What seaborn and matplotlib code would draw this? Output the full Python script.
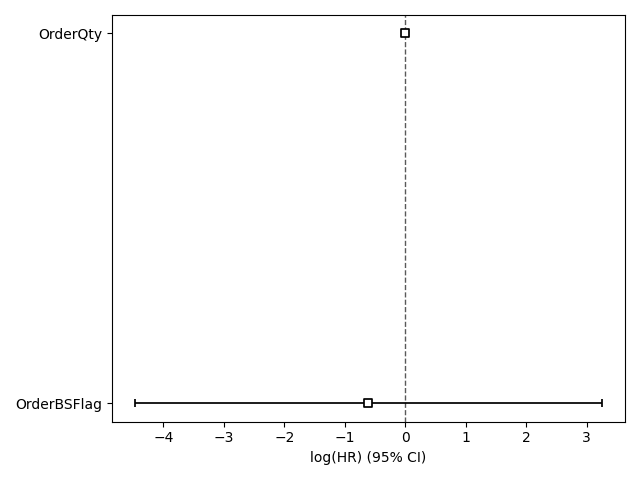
import numpy as np
import pandas as pd
import seaborn as sns
import matplotlib
matplotlib.use("Agg")
import matplotlib.pyplot as plt

# coefficients (log hazard ratios) and 95% CI half widths, sorted by coef
covariates = ["OrderBSFlag", "OrderQty"]
log_hr = [-0.61, 0.0]
ci_half = [3.86, 0.0005]

df = pd.DataFrame({"covariate": covariates, "coef": log_hr, "err": ci_half})
df["pos"] = range(len(df))

fig, ax = plt.subplots(figsize=(6.4, 4.8), dpi=100)
ax.errorbar(df["coef"], df["pos"], xerr=df["err"], fmt="none", ecolor="k",
            elinewidth=1.25, capsize=3, capthick=1.25)
sns.scatterplot(data=df, x="coef", y="pos", marker="s", s=36, color="white",
                edgecolor="k", linewidth=1.25, zorder=3, ax=ax, legend=False)
best_ylim = ax.get_ylim()
ax.vlines(0, -2, len(df) + 1, linestyles="dashed", linewidths=1, alpha=0.65, color="k")
ax.set_ylim(best_ylim)
ax.set_yticks(df["pos"])
ax.set_yticklabels(df["covariate"])
ax.set_ylabel("")
ax.set_xlabel("log(HR) (95% CI)")
plt.tight_layout()
plt.savefig("out.png", dpi=100)
